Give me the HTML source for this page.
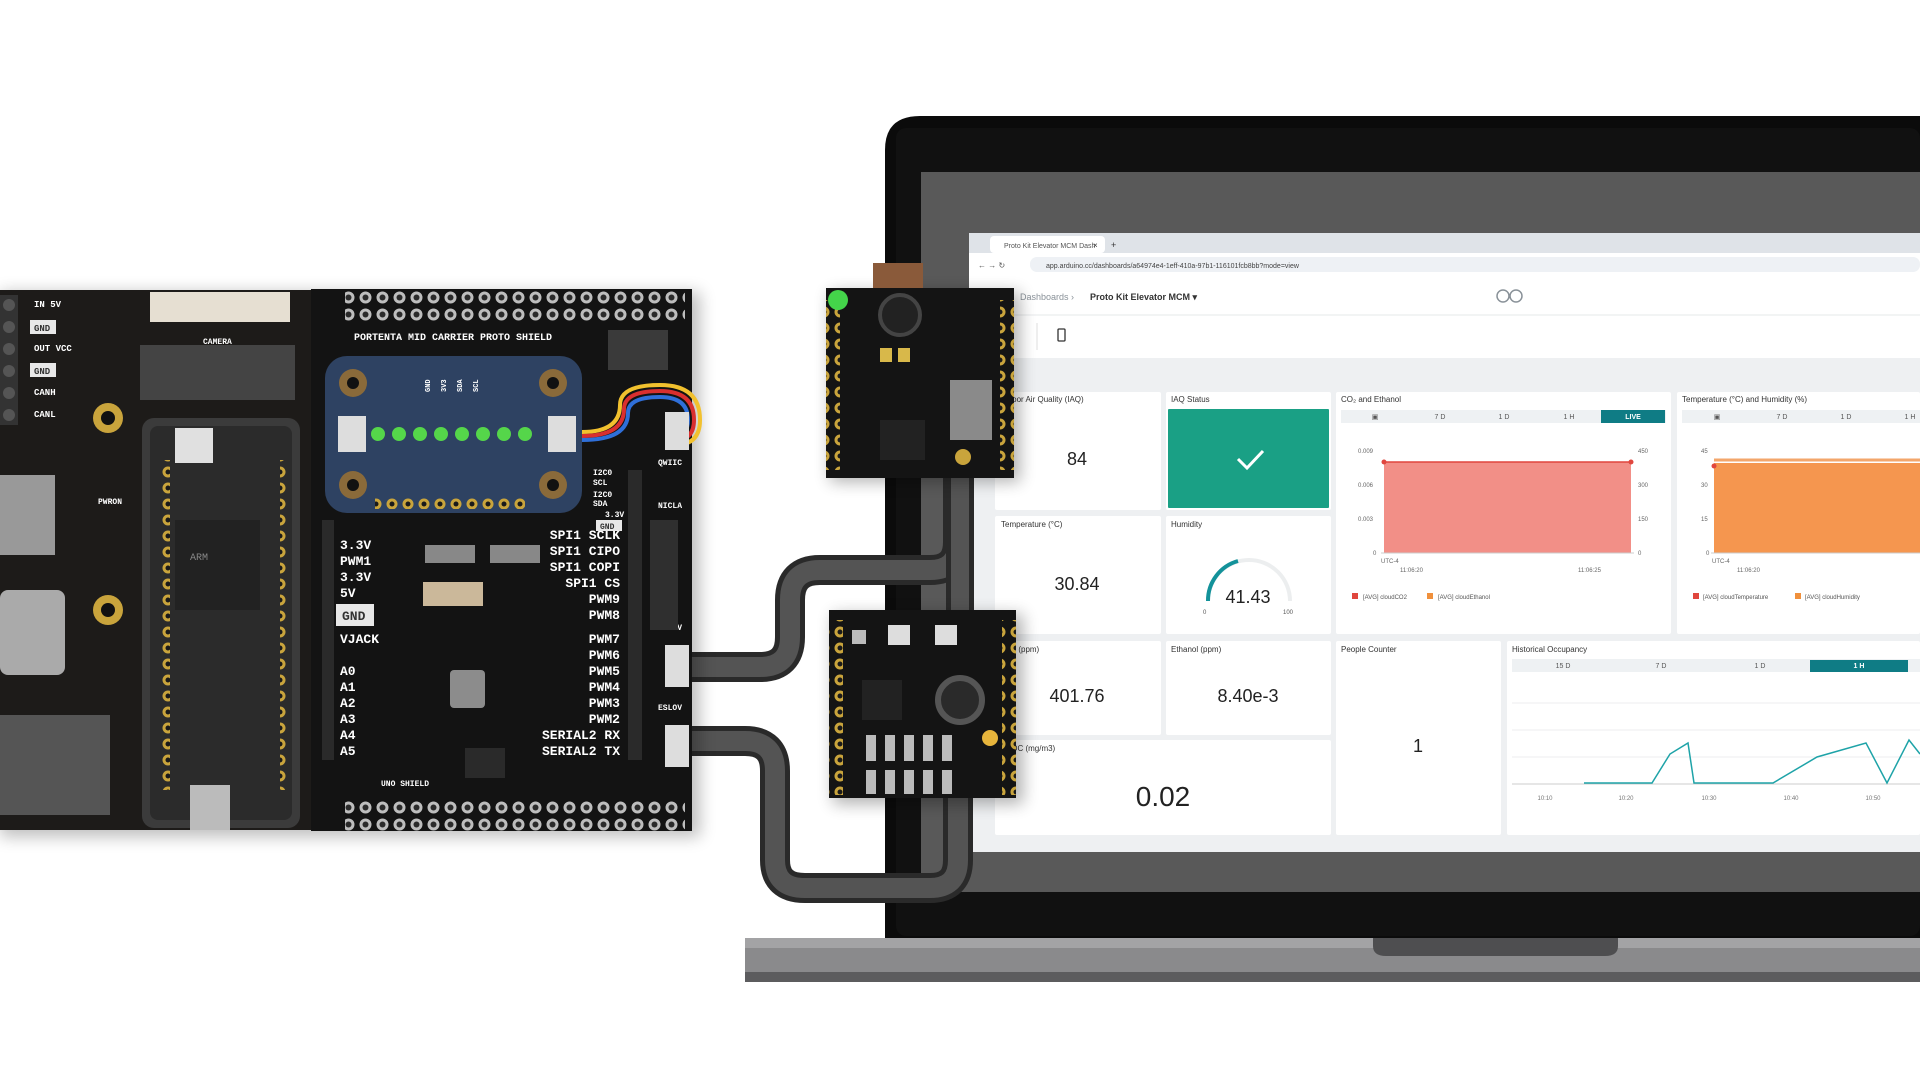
<!DOCTYPE html>
<html><head><meta charset="utf-8"><style>
html,body{margin:0;padding:0;background:#fff;}
svg{display:block;font-family:"Liberation Sans",sans-serif;}
.m{font-family:"Liberation Mono",monospace;font-weight:bold;fill:#fff;}
</style></head><body>
<svg width="1920" height="1080" viewBox="0 0 1920 1080" xmlns="http://www.w3.org/2000/svg">
<defs>
<filter id="sh" x="-10%" y="-10%" width="120%" height="120%"><feGaussianBlur stdDeviation="8"/></filter>
<pattern id="hole" width="17" height="17" patternUnits="userSpaceOnUse"><circle cx="8.5" cy="8.5" r="6" fill="#bdbdbd"/><circle cx="8.5" cy="8.5" r="3" fill="#2a2a2a"/></pattern>
<pattern id="pad" width="16" height="16" patternUnits="userSpaceOnUse"><circle cx="8" cy="8" r="5.5" fill="#c9a43c"/><circle cx="8" cy="8" r="2.5" fill="#1a1a1a"/></pattern>
</defs>
<rect width="1920" height="1080" fill="#fff"/>

<!-- Laptop -->
<path d="M885,150 Q885,116 920,116 H1920 V940 H885 Z" fill="#0b0b0b"/>
<rect x="896" y="128" width="1024" height="808" rx="10" fill="#111"/>
<rect x="921" y="172" width="999" height="720" fill="#595959"/>
<rect x="745" y="938" width="1175" height="44" rx="6" fill="#8a8a8c"/>
<rect x="745" y="938" width="1175" height="10" fill="#a3a3a5"/>
<rect x="745" y="972" width="1175" height="10" fill="#5c5c5e"/>
<path d="M1373,938 H1618 V946 Q1618,956 1605,956 H1386 Q1373,956 1373,946 Z" fill="#4e4e50"/>

<!-- Browser -->
<rect x="969" y="233" width="951" height="619" fill="#eef0f2"/>
<rect x="969" y="233" width="951" height="20" fill="#dfe3e8"/>
<rect x="990" y="236" width="115" height="17" rx="4" fill="#fff"/>
<text x="1004" y="248" font-size="7" fill="#555">Proto Kit Elevator MCM Dash</text>
<text x="1093" y="248" font-size="8" fill="#333">×</text>
<text x="1111" y="248" font-size="9" fill="#333">+</text>
<rect x="969" y="253" width="951" height="24" fill="#fff"/>
<rect x="1030" y="257" width="890" height="15" rx="7" fill="#eef1f5"/>
<text x="978" y="268" font-size="8" fill="#555">←   →   ↻</text>
<text x="1046" y="268" font-size="7" fill="#444">app.arduino.cc/dashboards/a64974e4-1eff-410a-97b1-116101fcb8bb?mode=view</text>
<rect x="969" y="277" width="951" height="81" fill="#fff"/>
<line x1="969" y1="315" x2="1920" y2="315" stroke="#e6e8ea"/>
<text x="1020" y="300" font-size="9" fill="#8a9299">Dashboards  ›</text>
<text x="1090" y="300" font-size="9" font-weight="bold" fill="#333">Proto Kit Elevator MCM ▾</text>
<circle cx="1503" cy="296" r="6" fill="none" stroke="#8a9299" stroke-width="1.5"/><circle cx="1516" cy="296" r="6" fill="none" stroke="#8a9299" stroke-width="1.5"/>
<line x1="1037" y1="323" x2="1037" y2="350" stroke="#ddd"/>
<rect x="1058" y="329" width="7" height="12" rx="1" fill="none" stroke="#333" stroke-width="1.3"/>

<!-- Cards -->
<g fill="#fff">
<rect x="995" y="392" width="166" height="118" rx="2"/>
<rect x="1166" y="392" width="165" height="118" rx="2"/>
<rect x="1336" y="392" width="335" height="242" rx="2"/>
<rect x="1677" y="392" width="243" height="242" rx="2"/>
<rect x="995" y="516" width="166" height="118" rx="2"/>
<rect x="1166" y="516" width="165" height="118" rx="2"/>
<rect x="995" y="641" width="166" height="94" rx="2"/>
<rect x="1166" y="641" width="165" height="94" rx="2"/>
<rect x="1336" y="641" width="165" height="194" rx="2"/>
<rect x="1507" y="641" width="413" height="194" rx="2"/>
<rect x="995" y="740" width="336" height="95" rx="2"/>
</g>
<g font-size="8" fill="#333">
<text x="1001" y="402">Indoor Air Quality (IAQ)</text>
<text x="1171" y="402">IAQ Status</text>
<text x="1341" y="402">CO₂ and Ethanol</text>
<text x="1682" y="402">Temperature (°C) and Humidity (%)</text>
<text x="1001" y="527">Temperature (°C)</text>
<text x="1171" y="527">Humidity</text>
<text x="1001" y="652">CO₂ (ppm)</text>
<text x="1171" y="652">Ethanol (ppm)</text>
<text x="1341" y="652">People Counter</text>
<text x="1512" y="652">Historical Occupancy</text>
<text x="1001" y="751">TVOC (mg/m3)</text>
</g>
<g font-size="18" fill="#222" text-anchor="middle">
<text x="1077" y="465">84</text>
<text x="1077" y="590">30.84</text>
<text x="1077" y="702">401.76</text>
<text x="1248" y="702">8.40e-3</text>
<text x="1418" y="752">1</text>
<text x="1248" y="603">41.43</text>
<text x="1163" y="806" font-size="28">0.02</text>
</g>
<rect x="1168" y="409" width="161" height="99" rx="1" fill="#1aa085"/>
<path d="M1238,459 l9,9 l16,-17" fill="none" stroke="#fff" stroke-width="3"/>
<path d="M1208,601 A41,41 0 0 1 1290,601" fill="none" stroke="#eceeef" stroke-width="4"/>
<path d="M1208,601 A41,41 0 0 1 1238,561" fill="none" stroke="#13929a" stroke-width="4"/>
<text x="1203" y="614" font-size="6" fill="#555">0</text><text x="1283" y="614" font-size="6" fill="#555">100</text>

<!-- CO2 chart -->
<rect x="1341" y="410" width="325" height="13" fill="#eef1f3"/>
<rect x="1601" y="410" width="64" height="13" fill="#0f7c85"/>
<g font-size="7" fill="#555" text-anchor="middle"><text x="1375" y="419">▣</text><text x="1440" y="419">7 D</text><text x="1504" y="419">1 D</text><text x="1569" y="419">1 H</text><text x="1633" y="419" fill="#fff" font-weight="bold">LIVE</text></g>
<rect x="1384" y="462" width="247" height="91" fill="#f28f87"/>
<line x1="1384" y1="462" x2="1631" y2="462" stroke="#e0463e" stroke-width="1.5"/>
<circle cx="1384" cy="462" r="2.5" fill="#e0463e"/><circle cx="1631" cy="462" r="2.5" fill="#e0463e"/>
<line x1="1381" y1="553" x2="1634" y2="553" stroke="#ccc"/>
<g font-size="6" fill="#666"><text x="1358" y="453">0.009</text><text x="1358" y="487">0.006</text><text x="1358" y="521">0.003</text><text x="1373" y="555">0</text><text x="1638" y="453">450</text><text x="1638" y="487">300</text><text x="1638" y="521">150</text><text x="1638" y="555">0</text><text x="1381" y="563">UTC-4</text><text x="1400" y="572">11:06:20</text><text x="1578" y="572">11:06:25</text></g>
<rect x="1352" y="593" width="6" height="6" fill="#e0463e"/><text x="1363" y="599" font-size="6" fill="#555">[AVG] cloudCO2</text>
<rect x="1427" y="593" width="6" height="6" fill="#f0903c"/><text x="1438" y="599" font-size="6" fill="#555">[AVG] cloudEthanol</text>
<!-- Temp chart -->
<rect x="1682" y="410" width="238" height="13" fill="#eef1f3"/>
<g font-size="7" fill="#555" text-anchor="middle"><text x="1717" y="419">▣</text><text x="1782" y="419">7 D</text><text x="1846" y="419">1 D</text><text x="1910" y="419">1 H</text></g>
<rect x="1714" y="463" width="206" height="90" fill="#f5964f"/>
<line x1="1714" y1="460" x2="1920" y2="460" stroke="#f3a66b" stroke-width="3"/>
<circle cx="1714" cy="466" r="2.5" fill="#e0463e"/>
<line x1="1711" y1="553" x2="1920" y2="553" stroke="#ccc"/>
<g font-size="6" fill="#666"><text x="1701" y="453">45</text><text x="1701" y="487">30</text><text x="1701" y="521">15</text><text x="1706" y="555">0</text><text x="1712" y="563">UTC-4</text><text x="1737" y="572">11:06:20</text></g>
<rect x="1693" y="593" width="6" height="6" fill="#e0463e"/><text x="1703" y="599" font-size="6" fill="#555">[AVG] cloudTemperature</text>
<rect x="1795" y="593" width="6" height="6" fill="#f0903c"/><text x="1805" y="599" font-size="6" fill="#555">[AVG] cloudHumidity</text>
<!-- Historical -->
<rect x="1512" y="659" width="408" height="13" fill="#eef1f3"/>
<rect x="1810" y="660" width="98" height="12" fill="#0f7c85"/>
<g font-size="7" fill="#555" text-anchor="middle"><text x="1563" y="668">15 D</text><text x="1661" y="668">7 D</text><text x="1760" y="668">1 D</text><text x="1859" y="668" fill="#fff" font-weight="bold">1 H</text></g>
<g stroke="#eceeef"><line x1="1512" y1="703" x2="1920" y2="703"/><line x1="1512" y1="730" x2="1920" y2="730"/><line x1="1512" y1="757" x2="1920" y2="757"/></g>
<line x1="1512" y1="784" x2="1920" y2="784" stroke="#ccc"/>
<polyline points="1584,783 1652,783 1670,754 1688,743 1694,783 1773,783 1817,757 1866,743 1887,783 1909,740 1920,754" fill="none" stroke="#1ea3a8" stroke-width="1.5"/>
<g font-size="6" fill="#777" text-anchor="middle"><text x="1545" y="800">10:10</text><text x="1626" y="800">10:20</text><text x="1709" y="800">10:30</text><text x="1791" y="800">10:40</text><text x="1873" y="800">10:50</text></g>

<!-- Cables -->
<g fill="none" stroke-linecap="butt">
<path d="M692,667 H760 Q790,667 790,637 V600 Q790,570 820,570 H930 Q958,570 958,542 V470" stroke="#2a2a2a" stroke-width="30"/>
<path d="M692,741 H745 Q775,741 775,771 V860 Q775,888 805,888 H930 Q958,888 958,860 V795" stroke="#2a2a2a" stroke-width="30"/>
<path d="M692,667 H760 Q790,667 790,637 V600 Q790,570 820,570 H930 Q958,570 958,542 V470" stroke="#545454" stroke-width="20"/>
<path d="M692,741 H745 Q775,741 775,771 V860 Q775,888 805,888 H930 Q958,888 958,860 V795" stroke="#545454" stroke-width="20"/>
<path d="M960,470 V620" stroke="#2a2a2a" stroke-width="28"/><path d="M960,470 V620" stroke="#545454" stroke-width="18"/>
</g>

<!-- Left PCB shadow -->
<rect x="0" y="292" width="700" height="545" fill="#000" opacity="0.25" filter="url(#sh)"/>
<!-- Mid carrier -->
<rect x="0" y="290" width="312" height="540" fill="#1d1b19"/>
<rect x="0" y="295" width="18" height="130" fill="#333"/>
<g fill="#555"><circle cx="9" cy="305" r="6"/><circle cx="9" cy="327" r="6"/><circle cx="9" cy="349" r="6"/><circle cx="9" cy="371" r="6"/><circle cx="9" cy="393" r="6"/><circle cx="9" cy="415" r="6"/></g>
<g class="m" font-size="9"><text x="34" y="307">IN 5V</text><text x="34" y="351">OUT VCC</text><text x="34" y="395">CANH</text><text x="34" y="417">CANL</text></g>
<rect x="30" y="320" width="26" height="14" fill="#e8e8e8"/><text x="34" y="331" font-size="9" font-family="Liberation Mono" font-weight="bold" fill="#333">GND</text>
<rect x="30" y="363" width="26" height="14" fill="#e8e8e8"/><text x="34" y="374" font-size="9" font-family="Liberation Mono" font-weight="bold" fill="#333">GND</text>
<rect x="150" y="292" width="140" height="30" fill="#e6dfd2"/>
<rect x="140" y="345" width="155" height="55" fill="#444"/>
<text x="203" y="344" class="m" font-size="8">CAMERA</text>
<circle cx="108" cy="418" r="15" fill="#c9a43c"/><circle cx="108" cy="418" r="7" fill="#111"/>
<circle cx="108" cy="610" r="15" fill="#c9a43c"/><circle cx="108" cy="610" r="7" fill="#111"/>
<rect x="0" y="475" width="55" height="80" fill="#999"/>
<rect x="0" y="590" width="65" height="85" fill="#aaa" rx="8"/>
<rect x="0" y="715" width="110" height="100" fill="#555"/>
<text x="98" y="504" class="m" font-size="8">PWRON</text>
<!-- Portenta -->
<rect x="142" y="418" width="158" height="410" rx="12" fill="#3b3b3b"/>
<rect x="150" y="426" width="142" height="394" rx="8" fill="#2b2b2b"/>
<rect x="175" y="428" width="38" height="35" fill="#e0e0e0"/>
<rect x="175" y="520" width="85" height="90" fill="#222"/>
<text x="190" y="560" font-size="10" fill="#888" font-family="Liberation Mono">ARM</text>
<rect x="160" y="460" width="10" height="330" fill="url(#pad)"/>
<rect x="280" y="460" width="10" height="330" fill="url(#pad)"/>
<rect x="190" y="785" width="40" height="45" fill="#bbb"/>

<!-- Proto shield -->
<rect x="311" y="289" width="381" height="542" fill="#131313"/>
<rect x="345" y="291" width="340" height="34" fill="url(#hole)"/>
<rect x="345" y="798" width="340" height="34" fill="url(#hole)"/>
<text x="453" y="340" class="m" font-size="10" text-anchor="middle">PORTENTA MID CARRIER PROTO SHIELD</text>
<rect x="608" y="330" width="60" height="40" fill="#3a3a3a"/>
<!-- blue module -->
<rect x="325" y="356" width="257" height="157" rx="22" fill="#2e4262"/>
<rect x="338" y="416" width="28" height="36" fill="#ddd"/>
<rect x="548" y="416" width="28" height="36" fill="#ddd"/>
<g fill="#55d64a"><circle cx="378" cy="434" r="7"/><circle cx="399" cy="434" r="7"/><circle cx="420" cy="434" r="7"/><circle cx="441" cy="434" r="7"/><circle cx="462" cy="434" r="7"/><circle cx="483" cy="434" r="7"/><circle cx="504" cy="434" r="7"/><circle cx="525" cy="434" r="7"/></g>
<g fill="#8a6a3a"><circle cx="353" cy="383" r="14"/><circle cx="553" cy="383" r="14"/><circle cx="353" cy="485" r="14"/><circle cx="553" cy="485" r="14"/></g>
<g fill="#111"><circle cx="353" cy="383" r="6"/><circle cx="553" cy="383" r="6"/><circle cx="353" cy="485" r="6"/><circle cx="553" cy="485" r="6"/></g>
<rect x="375" y="497" width="150" height="12" fill="url(#pad)"/>
<g class="m" font-size="7"><text x="430" y="392" transform="rotate(-90 430 392)">GND</text><text x="446" y="392" transform="rotate(-90 446 392)">3V3</text><text x="462" y="392" transform="rotate(-90 462 392)">SDA</text><text x="478" y="392" transform="rotate(-90 478 392)">SCL</text></g>
<!-- qwiic cable -->
<path d="M582,432 Q620,432 620,405 Q620,385 660,385 Q700,385 700,420 Q700,445 675,445" fill="none" stroke="#f2c12e" stroke-width="4"/>
<path d="M582,436 Q624,436 624,409 Q624,391 660,391 Q694,391 694,420 Q694,440 675,440" fill="none" stroke="#d92f2f" stroke-width="4"/>
<path d="M582,440 Q628,440 628,413 Q628,397 660,397 Q688,397 688,420 Q688,435 675,435" fill="none" stroke="#2f6fd9" stroke-width="4"/>
<rect x="665" y="412" width="24" height="38" fill="#ddd"/>
<rect x="665" y="645" width="24" height="42" fill="#ddd"/>
<rect x="665" y="725" width="24" height="42" fill="#ddd"/>
<!-- headers -->
<rect x="322" y="520" width="12" height="240" fill="#2a2a2a"/>
<rect x="628" y="470" width="14" height="290" fill="#2a2a2a"/>
<g class="m" font-size="13">
<text x="340" y="549">3.3V</text><text x="340" y="565">PWM1</text><text x="340" y="581">3.3V</text><text x="340" y="597">5V</text><text x="340" y="643">VJACK</text>
<text x="340" y="675">A0</text><text x="340" y="691">A1</text><text x="340" y="707">A2</text><text x="340" y="723">A3</text><text x="340" y="739">A4</text><text x="340" y="755">A5</text>
</g>
<rect x="336" y="604" width="38" height="22" fill="#e8e8e8"/><text x="342" y="620" font-size="13" font-family="Liberation Mono" font-weight="bold" fill="#333">GND</text>
<g class="m" font-size="13" text-anchor="end">
<text x="620" y="539">SPI1 SCLK</text><text x="620" y="555">SPI1 CIPO</text><text x="620" y="571">SPI1 COPI</text><text x="620" y="587">SPI1 CS</text><text x="620" y="603">PWM9</text><text x="620" y="619">PWM8</text>
<text x="620" y="643">PWM7</text><text x="620" y="659">PWM6</text><text x="620" y="675">PWM5</text><text x="620" y="691">PWM4</text><text x="620" y="707">PWM3</text><text x="620" y="723">PWM2</text><text x="620" y="739">SERIAL2 RX</text><text x="620" y="755">SERIAL2 TX</text>
</g>
<g class="m" font-size="8"><text x="593" y="475">I2C0</text><text x="593" y="485">SCL</text><text x="593" y="497">I2C0</text><text x="593" y="506">SDA</text><text x="605" y="517">3.3V</text><text x="658" y="465">QWIIC</text><text x="658" y="508">NICLA</text><text x="658" y="630">ESLOV</text><text x="658" y="710">ESLOV</text></g>
<rect x="596" y="520" width="26" height="11" fill="#e8e8e8"/><text x="600" y="529" font-size="8" font-family="Liberation Mono" font-weight="bold" fill="#333">GND</text>
<rect x="650" y="520" width="28" height="110" fill="#2f2f2f"/>
<rect x="425" y="545" width="50" height="18" fill="#888"/><rect x="490" y="545" width="50" height="18" fill="#888"/>
<rect x="423" y="582" width="60" height="24" fill="#cbb89a"/>
<rect x="450" y="670" width="35" height="38" rx="4" fill="#8c8c8c"/>
<text x="405" y="786" class="m" font-size="8" text-anchor="middle">UNO SHIELD</text>
<rect x="465" y="748" width="40" height="30" fill="#2a2a2a"/>

<!-- Nicla top board -->
<rect x="830" y="292" width="190" height="190" fill="#000" opacity="0.3" filter="url(#sh)"/>
<rect x="873" y="263" width="50" height="30" fill="#8a5a3a"/>
<rect x="826" y="288" width="188" height="190" fill="#141414"/>
<rect x="826" y="300" width="14" height="170" fill="url(#pad)"/>
<rect x="1000" y="300" width="14" height="170" fill="url(#pad)"/>
<circle cx="838" cy="300" r="10" fill="#44d54a"/>
<circle cx="900" cy="315" r="20" fill="#222" stroke="#444" stroke-width="4"/>
<rect x="880" y="348" width="12" height="14" fill="#d8b84a"/><rect x="898" y="348" width="12" height="14" fill="#d8b84a"/>
<rect x="950" y="380" width="42" height="60" fill="#8a8a8a"/>
<rect x="880" y="420" width="45" height="40" fill="#222"/>
<circle cx="963" cy="457" r="8" fill="#c9a43c"/>
<!-- second board -->
<rect x="833" y="614" width="190" height="190" fill="#000" opacity="0.3" filter="url(#sh)"/>
<rect x="829" y="610" width="187" height="188" fill="#141414"/>
<rect x="829" y="620" width="14" height="175" fill="url(#pad)"/>
<rect x="1002" y="620" width="14" height="175" fill="url(#pad)"/>
<rect x="888" y="625" width="22" height="20" fill="#ddd"/><rect x="935" y="625" width="22" height="20" fill="#ddd"/>
<rect x="852" y="630" width="14" height="14" fill="#bbb"/>
<circle cx="960" cy="700" r="22" fill="#2a2a2a" stroke="#555" stroke-width="6"/>
<rect x="862" y="680" width="40" height="40" fill="#222"/>
<g fill="#bbb"><rect x="866" y="735" width="10" height="26"/><rect x="885" y="735" width="10" height="26"/><rect x="904" y="735" width="10" height="26"/><rect x="923" y="735" width="10" height="26"/><rect x="942" y="735" width="10" height="26"/><rect x="866" y="770" width="10" height="24"/><rect x="885" y="770" width="10" height="24"/><rect x="904" y="770" width="10" height="24"/><rect x="923" y="770" width="10" height="24"/><rect x="942" y="770" width="10" height="24"/></g>
<circle cx="990" cy="738" r="8" fill="#e7b53c"/>
</svg>
</body></html>
